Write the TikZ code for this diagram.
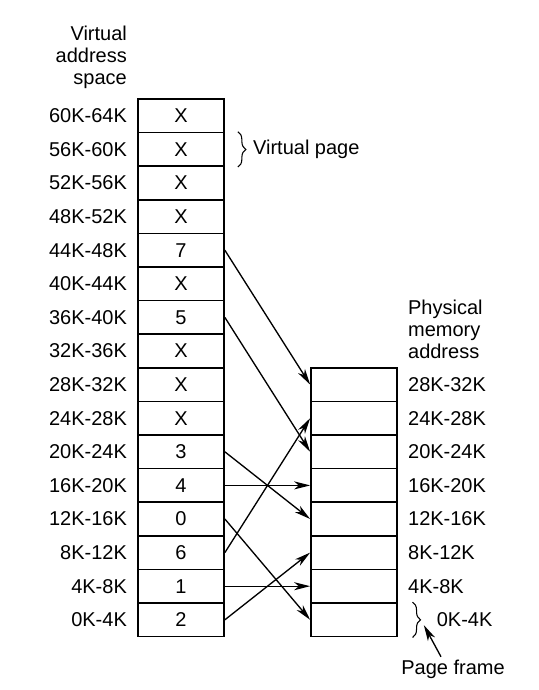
\documentclass[tikz,border=0pt]{standalone}
\usepackage{fontspec}
\setmainfont{Liberation Sans}
\usetikzlibrary{positioning,arrows.meta,decorations.pathreplacing}

\tikzset{
  txt/.style={inner sep=0pt, font=\fontsize{15}{16.5}\selectfont},
  cell/.style={draw, line width=1.3pt, minimum width=64.5pt, minimum height=25.2pt, inner sep=0pt, font=\fontsize{15}{16.5}\selectfont},
  map/.style={line width=1pt, -{Stealth[length=12pt,width=6pt,inset=3.5pt]}},
  brace/.style={decorate, decoration={brace, amplitude=6pt}, line width=0.8pt}
}

\begin{document}
\begin{tikzpicture}[x=0.75pt,y=-0.75pt]
\useasboundingbox (0,0) rectangle (539,690);
% virtual address space
\foreach \p/\f in {15/X,14/X,13/X,12/X,11/7,10/X,9/5,8/X,7/X,6/X,5/3,4/4,3/0,2/6,1/1,0/2} {
  \pgfmathtruncatemacro\lo{4*\p}
  \pgfmathtruncatemacro\hi{4*\p+4}
  \node[cell] (v\p) at (181,{99+(15.5-\p)*33.6}) {\f};
  \node[txt, left=7.5pt of v\p] (la\p) {\lo K-\hi K};
}
\node[txt, align=right, anchor=south east] (vhead) at ([yshift=15pt]la15.north east) {Virtual\\address\\space};
% physical memory
\foreach \f in {0,...,7} {
  \pgfmathtruncatemacro\lo{4*\f}
  \pgfmathtruncatemacro\hi{4*\f+4}
  \node[cell] (p\f) at (354,{99+(15.5-\f)*33.6}) {};
  \ifnum\f>0 \node[txt, right=7.5pt of p\f] (lb\f) {\lo K-\hi K}; \fi
}
\node[txt, align=left, anchor=south west] (phead) at ([yshift=14pt]lb7.north west) {Physical\\memory\\address};
% mapping
\foreach \p/\f in {11/7,9/5,5/3,4/4,3/0,2/6,1/1,0/2}
  \draw[map] (v\p.east) -- (p\f.west);
% braces
\draw[brace] ([xshift=9.75pt]v14.north east) -- ([xshift=9.75pt]v14.south east);
\node[txt, right=21pt of v14] (vpage) {Virtual page};
\draw[brace] ([xshift=11pt]p0.north east) -- ([xshift=11pt]p0.south east);
\node[txt, right=29pt of p0] (lb0) {0K-4K};
\coordinate (ftip) at ([xshift=19.5pt,yshift=-4pt]p0.east);
\node[txt] (pframe) at (453,669) {Page frame};
\draw[map] ([xshift=-9pt,yshift=2pt]pframe.north) -- (ftip);
\end{tikzpicture}
\end{document}
